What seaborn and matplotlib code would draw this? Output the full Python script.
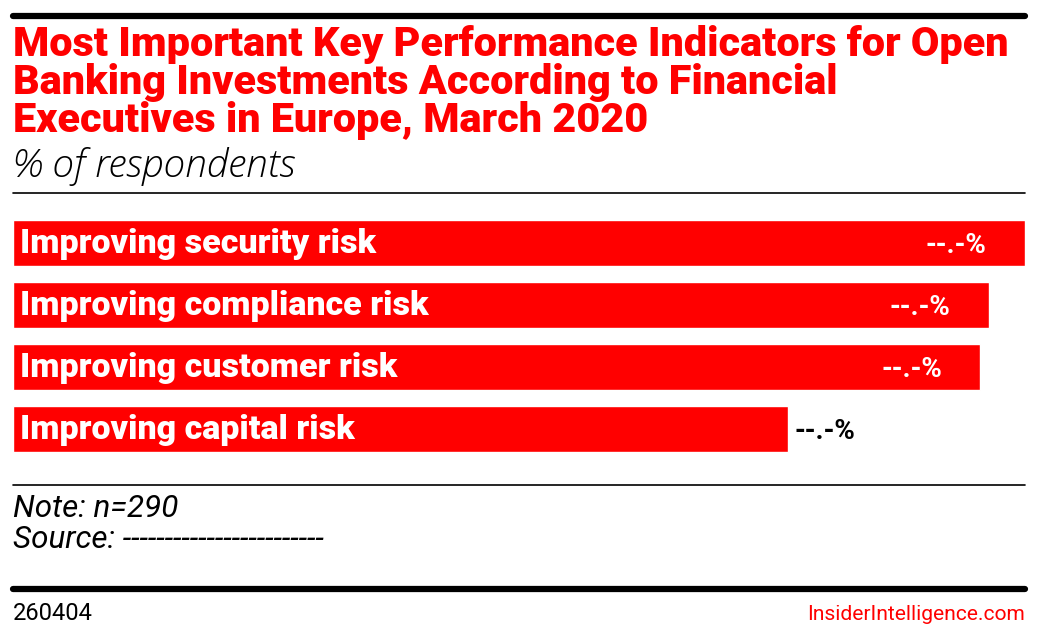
import matplotlib
matplotlib.use("Agg")
import matplotlib.pyplot as plt
import seaborn as sns
import pandas as pd

categories = ["Improving security risk", "Improving compliance risk",
              "Improving customer risk", "Improving capital risk"]
# values hidden in the original ("--.-%")
values = [61.0, 58.8, 58.3, 46.7]
value_labels = ["--.-%", "--.-%", "--.-%", "--.-%"]

RED = "#ff0000"
W, H = 1038, 639

sns.set_theme(style="white")
plt.rcParams["font.family"] = ["Liberation Sans", "DejaVu Sans"]
HEAVY = ["Roboto", "DejaVu Sans"]

fig = plt.figure(figsize=(W / 100, H / 100), dpi=100)
renderer = fig.canvas.get_renderer()


def fx(px):
    return px / W


def fy(py):
    return 1 - py / H


def fit(t, width_px):
    # scale font so the text spans the width seen in the reference
    w = t.get_window_extent(renderer).width
    t.set_fontsize(t.get_fontsize() * width_px / w)
    return t


ax = fig.add_axes([fx(13), fy(460), fx(1025) - fx(13), (460 - 212) / H])
df = pd.DataFrame({"cat": categories, "val": values})
sns.barplot(data=df, x="val", y="cat", color=RED, saturation=1, width=0.74, ax=ax)
ax.set_xlim(0, values[0])
ax.set_ylim(3.5, -0.5)
ax.axis("off")

# baseline sits ~10px below bar centre (62px per category)
base = 10 / 62
for i, (cat, v, lab) in enumerate(zip(categories, values, value_labels)):
    t = ax.text(0.4, i + base, cat, color="white", fontsize=20, fontweight=900,
                va="baseline", ha="left", family=HEAVY)
    if i == 0:
        fit(t, 356)
        cat_size = t.get_fontsize()
    else:
        t.set_fontsize(cat_size)
    if v > 50:
        ax.text(v - 2.3, i + base, lab, color="white", fontsize=20,
                fontweight="bold", va="baseline", ha="right", family=HEAVY)
    else:
        ax.text(v + 0.4, i + base, lab, color="black", fontsize=20,
                fontweight="bold", va="baseline", ha="left", family=HEAVY)

# rules
fig.add_artist(plt.Line2D([fx(13), fx(1025)], [fy(16), fy(16)], color="black", lw=4.5))
fig.add_artist(plt.Line2D([fx(13), fx(1025)], [fy(193), fy(193)], color="black", lw=1.2))
fig.add_artist(plt.Line2D([fx(13), fx(1025)], [fy(485), fy(485)], color="black", lw=1.2))
fig.add_artist(plt.Line2D([fx(13), fx(1025)], [fy(589), fy(589)], color="black", lw=4.5))

title_lines = ["Most Important Key Performance Indicators for Open",
               "Banking Investments According to Financial",
               "Executives in Europe, March 2020"]
t0 = fig.text(fx(13), fy(56), title_lines[0], color=RED, fontsize=24,
              fontweight=900, va="baseline", ha="left", family=HEAVY)
fit(t0, 997)
for k, line in enumerate(title_lines[1:], start=1):
    fig.text(fx(13), fy(56 + 38 * k), line, color=RED, fontsize=t0.get_fontsize(),
             fontweight=900, va="baseline", ha="left", family=HEAVY)

sub = fig.text(fx(13), fy(177), "% of respondents", color="black", fontsize=23,
               style="italic", va="baseline", ha="left",
               family=["Open Sans", "DejaVu Sans"], fontweight="light")
fit(sub, 283)

narrow = ["Liberation Sans Narrow", "Roboto", "DejaVu Sans"]
note = fig.text(fx(13), fy(517), "Note: n=290", fontsize=19, style="italic",
                va="baseline", ha="left", color="black", family=narrow)
fit(note, 165)
fig.text(fx(13), fy(548), "Source: ------------------------",
         fontsize=note.get_fontsize(), style="italic", va="baseline",
         ha="left", color="black", family=narrow)
code = fig.text(fx(13), fy(620), "260404", fontsize=15, va="baseline",
                ha="left", color="black", family=narrow)
fit(code, 80)
site = fig.text(fx(1025), fy(620), "InsiderIntelligence.com", fontsize=15,
                va="baseline", ha="right", color=RED, family=narrow)
fit(site, 218)

fig.savefig("out.png", dpi=100)
